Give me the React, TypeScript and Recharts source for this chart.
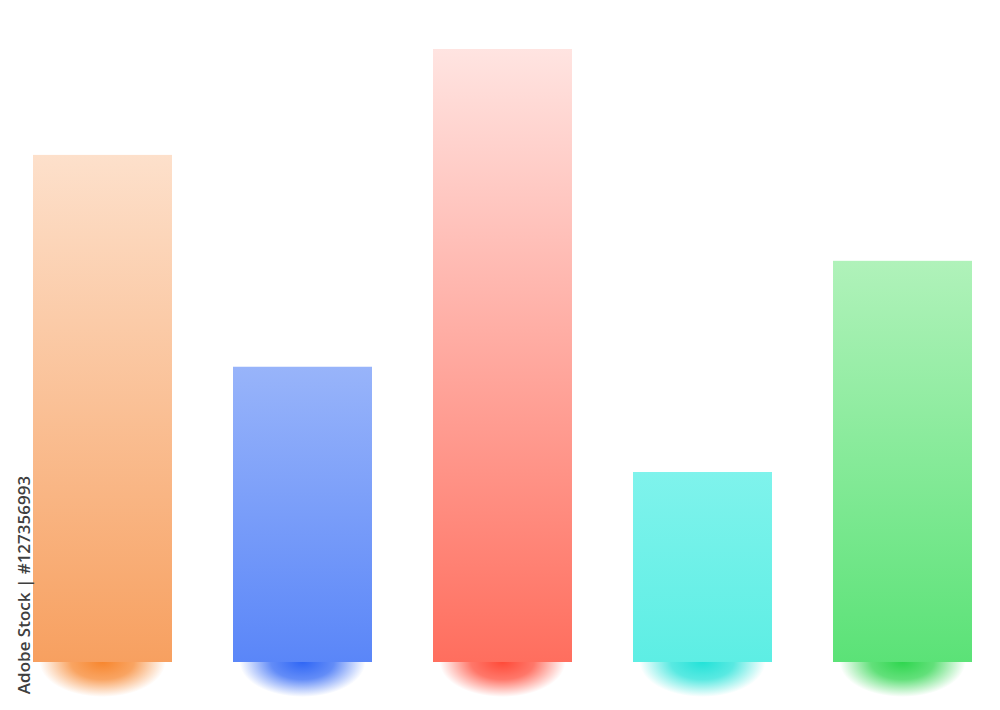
import { Bar, BarChart, Cell, XAxis, YAxis } from 'recharts'

const categorias = ['A', 'B', 'C', 'D', 'E']
const valores = [76.6, 44.6, 92.6, 28.7, 60.6]
const coresTopo = ['#FDE0CB', '#98B4FA', '#FFE4E1', '#7FF3EC', '#B0F2BA']
const coresBase = ['#F7A060', '#5A86F8', '#FF6E5E', '#5DEEE4', '#5BE277']
const coresSombra = ['#F7862E', '#2F66F5', '#FF4A38', '#22E2D8', '#2ED64E']

const dados = categorias.map((nome, i) => ({ nome, valor: valores[i], indice: i }))

function BarraComSombra(props: any) {
  const { x, y, width, height, payload } = props
  const i = payload.indice
  const base = y + height
  return (
    <g>
      <ellipse
        cx={x + width / 2}
        cy={base}
        rx={63}
        ry={35}
        fill={`url(#sombra-${i})`}
      />
      <rect x={x} y={y} width={width} height={height} fill={`url(#barra-${i})`} />
    </g>
  )
}

export default function App() {
  return (
    <div style={{ position: 'absolute', left: 0, top: 0, width: 1000, height: 710, background: '#fff', overflow: 'hidden' }}>
      <BarChart
        width={1000}
        height={710}
        data={dados}
        margin={{ top: 0, right: -2, left: 2, bottom: 48 }}
      >
        <defs>
          {categorias.map((c, i) => (
            <linearGradient key={`b-${c}`} id={`barra-${i}`} x1="0" y1="0" x2="0" y2="1">
              <stop offset="0%" stopColor={coresTopo[i]} />
              <stop offset="100%" stopColor={coresBase[i]} />
            </linearGradient>
          ))}
          {categorias.map((c, i) => (
            <radialGradient key={`s-${c}`} id={`sombra-${i}`} cx="50%" cy="50%" r="50%">
              <stop offset="0%" stopColor={coresSombra[i]} stopOpacity={1} />
              <stop offset="50%" stopColor={coresSombra[i]} stopOpacity={0.75} />
              <stop offset="80%" stopColor={coresSombra[i]} stopOpacity={0.3} />
              <stop offset="100%" stopColor={coresSombra[i]} stopOpacity={0} />
            </radialGradient>
          ))}
        </defs>
        <XAxis dataKey="nome" hide />
        <YAxis domain={[0, 100]} hide />
        <Bar dataKey="valor" barSize={139} shape={<BarraComSombra />} isAnimationActive={false}>
          {dados.map((d) => (
            <Cell key={d.nome} fill={coresBase[d.indice]} />
          ))}
        </Bar>
      </BarChart>
      <div
        style={{
          position: 'absolute',
          left: 23,
          top: 585,
          transform: 'translate(-50%, -50%) rotate(-90deg)',
          whiteSpace: 'nowrap',
          fontFamily: '"Open Sans", sans-serif',
          fontWeight: 600,
          fontSize: 17,
          color: '#3f3f3f',
        }}
      >
        Adobe Stock | #127356993
      </div>
    </div>
  )
}
